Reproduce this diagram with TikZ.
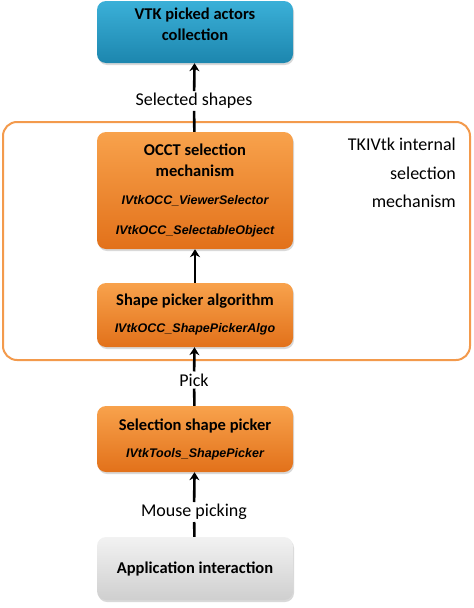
\documentclass[tikz,border=0pt]{standalone}
\usepackage{fontspec}
\setmainfont{Carlito}
\newfontfamily\classfont{Liberation Sans}
\usepackage{tikz}
\usetikzlibrary{arrows.meta}
\usetikzlibrary{shadows}

\definecolor{orangetop}{HTML}{F8A24C}
\definecolor{orangebot}{HTML}{E2711A}
\definecolor{bluetop}{HTML}{3BB0D8}
\definecolor{bluebot}{HTML}{1C86AE}
\definecolor{graytop}{HTML}{F2F2F2}
\definecolor{graybot}{HTML}{CFCFCF}
\definecolor{framecol}{HTML}{F39A4C}

\tikzset{
	box/.style={rounded corners=9pt, minimum width=196pt, align=center,
		font=\fontsize{16.5}{21}\selectfont\bfseries,
		drop shadow={opacity=0.3, shadow xshift=1pt, shadow yshift=-2pt}},
	orangebox/.style={box, top color=orangetop, bottom color=orangebot},
	bluebox/.style={box, top color=bluetop, bottom color=bluebot},
	graybox/.style={box, top color=graytop, bottom color=graybot},
	flowlabel/.style={font=\fontsize{18}{21}\selectfont, inner sep=2pt},
	flow/.style={line width=2.6pt, -{Stealth[length=8pt,width=10pt]}},
	flowline/.style={line width=2.6pt}
}
\newcommand{\cls}[1]{{\classfont\fontsize{12.5}{15}\selectfont\bfseries\itshape #1}}

\begin{document}
\begin{tikzpicture}[x=1pt,y=1pt]
	\useasboundingbox (0,0) rectangle (474,-608);

	% frame of the TKIVtk part
	\draw[framecol, line width=2pt, rounded corners=14pt] (3,-122) rectangle (470,-360);
	\node[flowlabel, anchor=north east, align=right, font=\fontsize{18}{28.5}\selectfont] (tkivtk) at (458,-136)
		{TKIVtk internal\\ selection\\ mechanism};

	\node[bluebox, minimum height=62pt, text depth=16pt] (vtk) at (195,-32) {VTK picked actors\\ collection};
	\node[flowlabel] (selected) at (194,-101) {Selected shapes};
	\node[orangebox, minimum height=117pt] (occt) at (195,-190.5)
		{OCCT selection\\ mechanism\\[7pt] \cls{IVtkOCC\_ViewerSelector}\\[9pt] \cls{IVtkOCC\_SelectableObject}};
	\node[orangebox, minimum height=64pt] (algo) at (195,-315)
		{Shape picker algorithm\\[6pt] \cls{IVtkOCC\_ShapePickerAlgo}};
	\node[flowlabel] (pick) at (194,-380) {Pick};
	\node[orangebox, minimum height=66pt] (picker) at (195,-439)
		{Selection shape picker\\[6pt] \cls{IVtkTools\_ShapePicker}};
	\node[flowlabel] (mouse) at (194,-512) {Mouse picking};
	\node[graybox, minimum height=63pt] (app) at (195,-568.5) {Application interaction};

	\draw[flowline] (occt) -- (selected);
	\draw[flow] (selected) -- (vtk);
	\draw[flow] (algo) -- (occt);
	\draw[flow] (pick) -- (algo);
	\draw[flowline] (picker) -- (pick);
	\draw[flowline] (app) -- (mouse);
	\draw[flow] (mouse) -- (picker);
\end{tikzpicture}
\end{document}
